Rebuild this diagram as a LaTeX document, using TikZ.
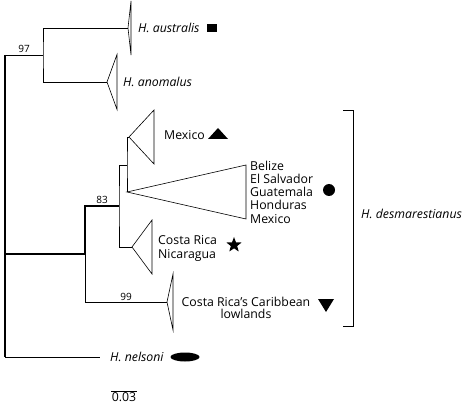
\documentclass[tikz,border=0pt]{standalone}
\usepackage{fontspec}
\setmainfont{Open Sans}
\usepackage{tikz}
\usetikzlibrary{shapes.geometric,positioning}

\begin{document}
\begin{tikzpicture}[x=1pt,y=-1pt,
  branch/.style={line width=0.8pt},
  stem/.style={line width=1.2pt},
  clade/.style={line width=0.6pt},
  taxon/.style={anchor=west,inner sep=0pt,font=\fontsize{12.3}{13.3}\selectfont},
  boot/.style={inner sep=1.5pt,font=\fontsize{10}{11}\selectfont},
  sym/.style={fill=black,draw=none,inner sep=0pt}]
\useasboundingbox (0,0) rectangle (474,406);
\coordinate (root) at (5,55);
\coordinate (nA) at (43,55);
\coordinate (nB) at (85,254);
\coordinate (nC) at (119,206);
\coordinate (nD) at (127,165);
\coordinate (nN) at (5,357);
\coordinate (aus) at (128,28);
\coordinate (ano) at (107,82);
\coordinate (mex) at (129,137);
\coordinate (big) at (127,192);
\coordinate (cr) at (132,247);
\coordinate (car) at (167,302);
\coordinate (nel) at (100,357);
\draw[stem] (root) -- (nN);
\draw[branch] (root) -- (nA) node[boot,midway,above] (b97) {97};
\draw[branch] (aus) -| (nA) |- (ano);
\draw[stem] (nB -| root) -- (nB);
\draw[stem] (nB) |- (nC) node[boot,pos=0.75,above] (b83) {83};
\draw[branch] (nB) |- (car) node[boot,pos=0.75,above] (b99) {99};
\draw[branch] (nD) -| (nC) |- (cr);
\draw[branch] (mex) -| (nD) |- (big);
\draw[branch] (nN) -- (nel);
\foreach \t/\w/\h in {aus/3/27,ano/10/27.5,mex/25/27,big/119/27,cr/20/27,car/6/28}
  \draw[clade] (\t) -- ++(\w,-\h) -- ++(0,2*\h) -- cycle;
\node[taxon] (lAus) at (138,28) {\itshape H. australis};
\node[sym,rectangle,minimum width=10pt,minimum height=8pt] (sAus) at (212,28) {};
\node[taxon] (lAno) at (123,82) {\itshape H. anomalus};
\node[taxon] (lMex) at (164,135) {Mexico};
\fill (208,139) -- (228,139) -- (218,128) -- cycle;
\node[taxon,align=left] (lBig) at (250,192) {Belize\\El Salvador\\Guatemala\\Honduras\\Mexico};
\fill (329,190) circle (6pt);
\node[taxon,align=left] (lCr) at (158,248.5) {Costa Rica\\Nicaragua};
\node[sym,star,star points=5,star point ratio=2.4,minimum size=16pt] (sCr) at (234,245) {};
\node[taxon,anchor=center,align=center,font=\fontsize{12.3}{12}\selectfont] (lCar) at (246,308) {Costa Rica's Caribbean\\lowlands};
\fill (318,299) -- (334,299) -- (326,312) -- cycle;
\draw[branch] (343,110) -- (353,110) -- (353,326) -- (343,326);
\node[taxon] (lDes) at (361,214) {\itshape H. desmarestianus};
\node[taxon] (lNel) at (110,357) {\itshape H. nelsoni};
\fill (185,357) ellipse [x radius=14.5pt,y radius=4.5pt];
\draw[branch] (111,391) -- (137,391) node[midway,below,inner sep=1pt,font=\fontsize{12.3}{13}\selectfont] (scl) {0.03};
\end{tikzpicture}
\end{document}
